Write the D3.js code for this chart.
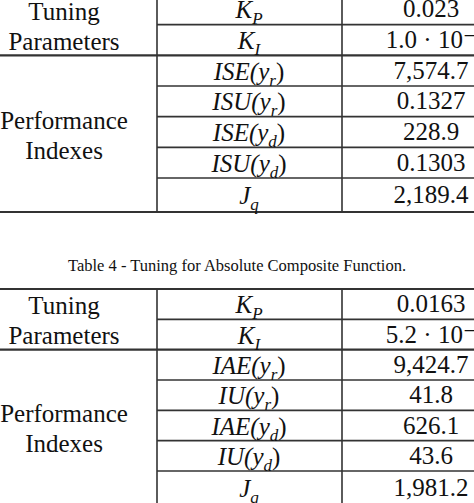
<!DOCTYPE html>
<html>
<head>
<script src="https://d3js.org/d3.v7.min.js"></script>
<style>
  body { margin: 0; background: #fff; }
  svg text { font-family: "Liberation Serif", "Tinos", "Times New Roman", "DejaVu Serif", serif; fill: #111; }
  .math { font-style: italic; }
</style>
</head>
<body>
<svg id="chart" width="474" height="503"></svg>
<script>
// table 3 (top, quadratic) and table 4 (absolute)
var groups = ["Tuning|Parameters", "Performance|Indexes"];
var symbolsTop = [["K", "P"], ["K", "I"], ["ISE(y", "r", ")"], ["ISU(y", "r", ")"], ["ISE(y", "d", ")"], ["ISU(y", "d", ")"], ["J", "q"]];
var valuesTop = ["0.023", "1.0 · 10⁻", "7,574.7", "0.1327", "228.9", "0.1303", "2,189.4"];
var symbolsBot = [["K", "P"], ["K", "I"], ["IAE(y", "r", ")"], ["IU(y", "r", ")"], ["IAE(y", "d", ")"], ["IU(y", "d", ")"], ["J", "q"]];
var valuesBot = ["0.0163", "5.2 · 10⁻", "9,424.7", "41.8", "626.1", "43.6", "1,981.2"];
var caption = "Table 4 - Tuning for Absolute Composite Function.";

var svg = d3.select("#chart");
var colX = [-30, 157, 342, 520];

function table(top, bottom, lastH, symbols, values) {
  var rowH = (bottom - lastH - top) / 6;
  var y = d3.scaleLinear().domain([0, 6]).range([top, bottom - lastH]);
  var g = svg.append("g");
  var line = (x1, y1, x2, y2, w) => g.append("line").attr("x1", x1).attr("y1", y1).attr("x2", x2).attr("y2", y2)
    .attr("stroke", "#333").attr("stroke-width", w);
  line(-5, y(0), 480, y(0), 2);
  for (var i = 1; i < 7; i++) line(i === 2 ? -5 : colX[1], y(i), 480, y(i), i === 2 ? 2.2 : 1.6);
  line(-5, bottom, 480, bottom, 2);
  line(colX[1], y(0), colX[1], bottom, 1.6);
  line(colX[2], y(0), colX[2], bottom, 1.6);

  var gy = [[y(0), y(2)], [y(2), bottom]];
  groups.forEach(function(label, k) {
    var mid = (gy[k][0] + gy[k][1]) / 2;
    label.split("|").forEach(function(t, j) {
      g.append("text").attr("x", 64).attr("y", mid + (j === 0 ? -5 : 25)).attr("text-anchor", "middle")
        .attr("font-size", 25).text(t);
    });
  });

  symbols.forEach(function(s, i) {
    var h = i === 6 ? lastH : rowH;
    var base = y(i) + h / 2 + 9;
    var t = g.append("text").attr("x", 249).attr("y", base).attr("text-anchor", "middle").attr("font-size", 25);
    t.append("tspan").attr("class", "math").text(s[0]);
    t.append("tspan").attr("class", "math").attr("font-size", 17).attr("dy", 6).text(s[1]);
    if (s[2]) t.append("tspan").attr("dy", -6).text(s[2]);
    g.append("text").attr("x", 431).attr("y", base - 1).attr("text-anchor", "middle").attr("font-size", 25).text(values[i]);
  });
}

table(-6, 212, 34, symbolsTop, valuesTop);
svg.append("text").attr("x", 237).attr("y", 271).attr("text-anchor", "middle").attr("font-size", 16.5).text(caption);
table(289, 505, 34, symbolsBot, valuesBot);
</script>
</body>
</html>
